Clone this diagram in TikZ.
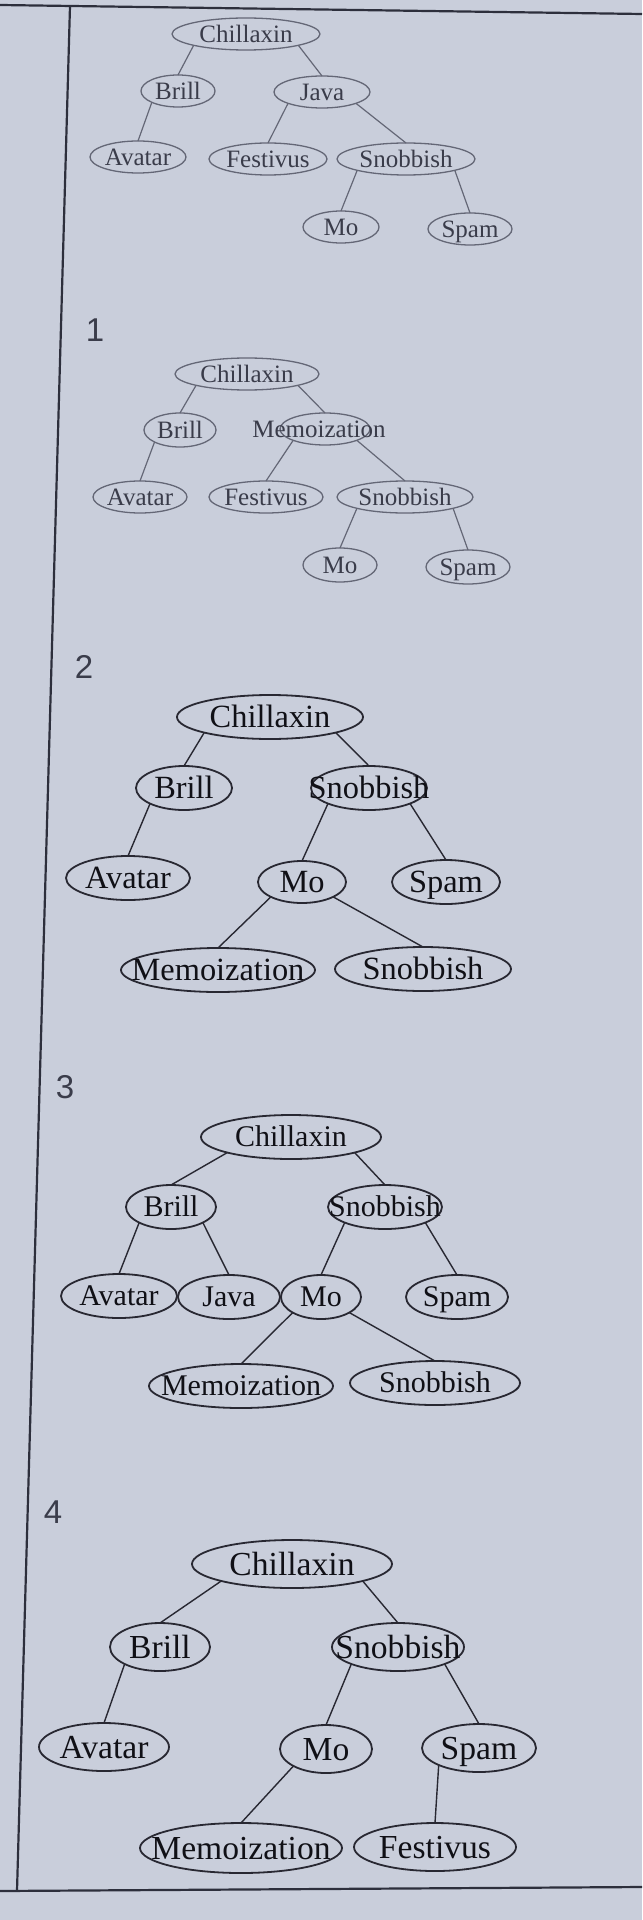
\documentclass[tikz,border=0pt]{standalone}
\usepackage{fontspec}
\setmainfont{Liberation Serif}
\newfontfamily\digitfont{Liberation Sans}
\usetikzlibrary{shapes.geometric}
\definecolor{bgc}{RGB}{201,206,219}
\definecolor{framec}{RGB}{45,47,60}
\definecolor{fline}{RGB}{100,103,118}
\definecolor{ftext}{RGB}{58,60,74}
\definecolor{dline}{RGB}{40,40,50}
\definecolor{dtext}{RGB}{16,16,22}
\newcommand\ntx[1]{\smash{\makebox[0pt]{\raisebox{-0.33em}{#1}}}}
\tikzset{
  sz/.style 2 args={minimum width=#1pt, minimum height=#2pt},
  basen/.style={ellipse, draw, inner sep=0pt, outer sep=0pt},
  F/.style={basen, draw=fline, line width=0.65pt, text=ftext, font=\fontsize{12.5}{14}\selectfont},
  D2/.style={basen, draw=dline, line width=0.9pt, text=dtext, font=\fontsize{16.2}{18}\selectfont},
  D3/.style={basen, draw=dline, line width=0.9pt, text=dtext, font=\fontsize{15}{17}\selectfont},
  D4/.style={basen, draw=dline, line width=0.9pt, text=dtext, font=\fontsize{16.8}{19}\selectfont},
  eF/.style={draw=fline, line width=0.6pt},
  eD/.style={draw=dline, line width=0.7pt},
  num/.style={inner sep=0pt, text=ftext, font=\digitfont\fontsize{16.5}{18}\selectfont},
  frame/.style={draw=framec, line width=1.1pt}
}
\begin{document}
\begin{tikzpicture}[x=0.5pt, y=-0.5pt]
\fill[bgc] (0,0) rectangle (642,1920);
\useasboundingbox (0,0) rectangle (642,1920);
% frame
\coordinate (tl) at (0,5);
\coordinate (tr) at (642,14);
\coordinate (vt) at (70,6);
\coordinate (vb) at (17,1891);
\coordinate (bl) at (0,1891);
\coordinate (br) at (642,1887);
\draw[frame] (tl) -- (tr);
\draw[frame] (vt) -- (vb);
\draw[frame] (bl) -- (br);

% ---------- tree 0 ----------
\node[F, sz={74}{16}] (a0) at (246,34) {\ntx{Chillaxin}};
\node[F, sz={37}{16}] (b0) at (178,91) {\ntx{Brill}};
\node[F, sz={48}{16}] (j0) at (322,92) {\ntx{Java}};
\node[F, sz={48}{16}] (v0) at (138,157) {\ntx{Avatar}};
\node[F, sz={59}{16}] (f0) at (268,159) {\ntx{Festivus}};
\node[F, sz={69}{16}] (s0) at (406,159) {\ntx{Snobbish}};
\node[F, sz={38}{16}] (m0) at (341,227) {\ntx{Mo}};
\node[F, sz={42}{16}] (p0) at (470,229) {\ntx{Spam}};
\draw[eF] (a0.south west) -- (b0.north);
\draw[eF] (a0.south east) -- (j0.north);
\draw[eF] (b0.south west) -- (v0.north);
\draw[eF] (j0.south west) -- (f0.north);
\draw[eF] (j0.south east) -- (s0.north);
\draw[eF] (s0.south west) -- (m0.north);
\draw[eF] (s0.south east) -- (p0.north);

% ---------- tree 1 ----------
\node[num] (n1) at (95,330) {1};
\node[F, sz={72}{16}] (a1) at (247,374) {\ntx{Chillaxin}};
\node[F, sz={36}{17}] (b1) at (180,430) {\ntx{Brill}};
\node[F, sz={45}{16}] (z1) at (325,429) {\ntx{\hspace*{-6pt}Memoization}};
\node[F, sz={47}{16}] (v1) at (140,497) {\ntx{Avatar}};
\node[F, sz={57}{16}] (f1) at (266,497) {\ntx{Festivus}};
\node[F, sz={68}{16}] (s1) at (405,497) {\ntx{Snobbish}};
\node[F, sz={37}{17}] (m1) at (340,565) {\ntx{Mo}};
\node[F, sz={42}{17}] (p1) at (468,567) {\ntx{Spam}};
\draw[eF] (a1.south west) -- (b1.north);
\draw[eF] (a1.south east) -- (z1.north);
\draw[eF] (b1.south west) -- (v1.north);
\draw[eF] (z1.south west) -- (f1.north);
\draw[eF] (z1.south east) -- (s1.north);
\draw[eF] (s1.south west) -- (m1.north);
\draw[eF] (s1.south east) -- (p1.north);

% ---------- tree 2 ----------
\node[num] (n2) at (84,667) {2};
\node[D2, sz={93}{22}] (a2) at (270,717) {\ntx{Chillaxin}};
\node[D2, sz={48}{22}] (b2) at (184,788) {\ntx{Brill}};
\node[D2, sz={58}{22}] (s2) at (369,788) {\ntx{Snobbish}};
\node[D2, sz={62}{22}] (v2) at (128,878) {\ntx{Avatar}};
\node[D2, sz={44}{21}] (m2) at (302,882) {\ntx{Mo}};
\node[D2, sz={54}{22}] (p2) at (446,882) {\ntx{Spam}};
\node[D2, sz={97}{22}] (z2) at (218,970) {\ntx{Memoization}};
\node[D2, sz={88}{22}] (t2) at (423,969) {\ntx{Snobbish}};
\draw[eD] (a2.south west) -- (b2.north);
\draw[eD] (a2.south east) -- (s2.north);
\draw[eD] (b2.south west) -- (v2.north);
\draw[eD] (s2.south west) -- (m2.north);
\draw[eD] (s2.south east) -- (p2.north);
\draw[eD] (m2.south west) -- (z2.north);
\draw[eD] (m2.south east) -- (t2.north);

% ---------- tree 3 ----------
\node[num] (n3) at (65,1087) {3};
\node[D3, sz={90}{22}] (a3) at (291,1137) {\ntx{Chillaxin}};
\node[D3, sz={45}{22}] (b3) at (171,1207) {\ntx{Brill}};
\node[D3, sz={57}{22}] (s3) at (385,1207) {\ntx{Snobbish}};
\node[D3, sz={58}{22}] (v3) at (119,1296) {\ntx{Avatar}};
\node[D3, sz={51}{22}] (j3) at (229,1297) {\ntx{Java}};
\node[D3, sz={40}{22}] (m3) at (321,1297) {\ntx{Mo}};
\node[D3, sz={51}{22}] (p3) at (457,1297) {\ntx{Spam}};
\node[D3, sz={92}{22}] (z3) at (241,1386) {\ntx{Memoization}};
\node[D3, sz={85}{22}] (t3) at (435,1383) {\ntx{Snobbish}};
\draw[eD] (a3.south west) -- (b3.north);
\draw[eD] (a3.south east) -- (s3.north);
\draw[eD] (b3.south west) -- (v3.north);
\draw[eD] (b3.south east) -- (j3.north);
\draw[eD] (s3.south west) -- (m3.north);
\draw[eD] (s3.south east) -- (p3.north);
\draw[eD] (m3.south west) -- (z3.north);
\draw[eD] (m3.south east) -- (t3.north);

% ---------- tree 4 ----------
\node[num] (n4) at (53,1512) {4};
\node[D4, sz={100}{24}] (a4) at (292,1564) {\ntx{Chillaxin}};
\node[D4, sz={50}{24}] (b4) at (160,1647) {\ntx{Brill}};
\node[D4, sz={66}{24}] (s4) at (398,1647) {\ntx{Snobbish}};
\node[D4, sz={65}{24}] (v4) at (104,1747) {\ntx{Avatar}};
\node[D4, sz={46}{24}] (m4) at (326,1749) {\ntx{Mo}};
\node[D4, sz={57}{24}] (p4) at (479,1748) {\ntx{Spam}};
\node[D4, sz={101}{25}] (z4) at (241,1848) {\ntx{Memoization}};
\node[D4, sz={81}{24}] (f4) at (435,1847) {\ntx{Festivus}};
\draw[eD] (a4.south west) -- (b4.north);
\draw[eD] (a4.south east) -- (s4.north);
\draw[eD] (b4.south west) -- (v4.north);
\draw[eD] (s4.south west) -- (m4.north);
\draw[eD] (s4.south east) -- (p4.north);
\draw[eD] (m4.south west) -- (z4.north);
\draw[eD] (p4.south west) -- (f4.north);
\end{tikzpicture}
\end{document}
